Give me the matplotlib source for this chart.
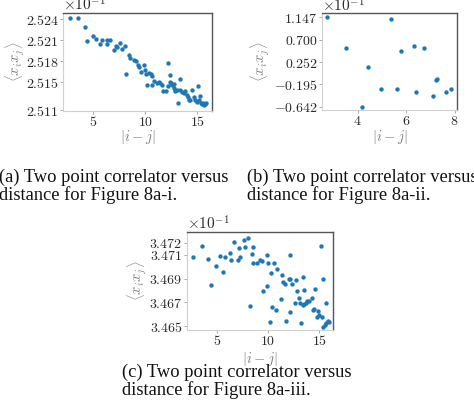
import matplotlib
matplotlib.use("Agg")
import matplotlib.pyplot as plt
from matplotlib.ticker import FixedLocator, FixedFormatter
from matplotlib.transforms import offset_copy

plt.rcParams['mathtext.fontset'] = 'cm'

# ---- data (a) ----
xa = [2.80, 3.59, 4.26, 4.45, 5.00, 5.32, 5.64, 5.83, 6.31, 6.37, 6.66, 7.05, 7.21, 7.31,
      7.63, 7.79, 8.05, 8.20, 8.46, 8.59, 8.88, 9.07, 9.30, 9.45, 9.62, 9.87, 10.00, 10.10,
      10.36, 10.55, 10.64, 10.19, 10.64, 10.87, 11.09, 11.32, 11.44, 11.61, 11.70, 12.02,
      12.15, 12.34, 12.40, 12.18, 12.43, 12.57, 12.72, 12.79, 12.88, 13.08, 13.14, 13.30,
      13.37, 13.53, 13.69, 13.85, 14.01, 14.11, 14.17, 14.26, 14.49, 14.65, 14.81, 14.97,
      15.07, 15.13, 15.22, 15.36, 15.45, 15.51, 15.64, 15.74, 15.80]
ya = [2.5241, 2.5242, 2.5228, 2.5209, 2.5216, 2.5212, 2.5205, 2.5210, 2.5210, 2.5204, 2.5210,
      2.5196, 2.5202, 2.5200, 2.5206, 2.5197, 2.5201, 2.5162, 2.5188, 2.5185, 2.5181, 2.5180,
      2.5175, 2.5172, 2.5165, 2.5174, 2.5167, 2.5162, 2.5163, 2.5161, 2.5159, 2.5146, 2.5146,
      2.5151, 2.5149, 2.5150, 2.5149, 2.5146, 2.5137, 2.5137, 2.5177, 2.5160, 2.5150, 2.5144,
      2.5148, 2.5146, 2.5147, 2.5141, 2.5137, 2.5139, 2.5120, 2.5154, 2.5139, 2.5136, 2.5134,
      2.5137, 2.5131, 2.5128, 2.5125, 2.5124, 2.5139, 2.5129, 2.5124, 2.5122, 2.5144, 2.5124,
      2.5130, 2.5120, 2.5118, 2.5120, 2.5117, 2.5119, 2.5120]
yticks_a = [2.511, 2.515, 2.518, 2.521, 2.524]
ytl_a = ['2.511', '2.515', '2.518', '2.521', '2.524']
xticks_a = [5, 10, 15]

# ---- data (b) ----
xb = [2.73, 3.53, 4.18, 4.42, 4.96, 5.36, 5.62, 5.80, 6.32, 6.40, 6.72, 7.09, 7.23, 7.28, 7.64, 7.84]
yb = [1.147, 0.539, -0.642, 0.146, -0.294, 1.119, -0.282, 0.479, 0.567, -0.342, 0.539,
      -0.434, -0.108, -0.082, -0.354, -0.288]
yticks_b = [-0.642, -0.195, 0.252, 0.700, 1.147]
ytl_b = ['-0.642', '-0.195', '0.252', '0.700', '1.147']
xticks_b = [4, 6, 8]

# ---- data (c) ----
xc = [2.72, 3.54, 4.18, 4.41, 4.93, 5.35, 5.58, 5.78, 6.26, 6.36, 6.69, 7.04, 7.21, 7.30, 7.63,
      7.79, 8.08, 8.25, 8.44, 8.54, 8.54, 8.90, 9.19, 9.45, 9.48, 9.87, 9.90, 9.97, 10.19,
      10.32, 10.42, 10.62, 10.78, 10.84, 11.23, 11.33, 11.46, 11.65, 11.72, 12.01, 12.18,
      12.18, 12.31, 12.11, 12.63, 12.70, 12.83, 13.06, 13.19, 13.15, 13.38, 13.44, 13.54,
      13.54, 13.70, 13.83, 14.03, 14.29, 14.35, 14.48, 14.61, 14.90, 14.77, 15.00, 15.20,
      15.23, 15.36, 15.33, 15.56, 15.65, 15.68, 15.81, 15.91]
yc = [3.47080, 3.47178, 3.47068, 3.46850, 3.47010, 3.47094, 3.46956, 3.47080, 3.47119, 3.47057,
      3.47208, 3.47060, 3.47158, 3.47085, 3.47222, 3.47164, 3.47242, 3.46668, 3.47108, 3.47164,
      3.47035, 3.47032, 3.47060, 3.47052, 3.46799, 3.46836, 3.47102, 3.47029, 3.46533, 3.46945,
      3.46659, 3.47029, 3.46640, 3.46982, 3.46729, 3.46934, 3.46869, 3.46858, 3.46547, 3.46897,
      3.47102, 3.46897, 3.46855, 3.46620, 3.46696, 3.46892, 3.46794, 3.46738, 3.46528, 3.46696,
      3.46912, 3.46682, 3.46805, 3.46687, 3.46696, 3.46710, 3.46710, 3.46738, 3.46634, 3.46645,
      3.46816, 3.46626, 3.46578, 3.46598, 3.47172, 3.46575, 3.46900, 3.46497, 3.46514, 3.46696,
      3.46528, 3.46542, 3.46533]
yticks_c = [3.465, 3.467, 3.469, 3.471, 3.472]
ytl_c = ['3.465', '3.467', '3.469', '3.471', '3.472']
xticks_c = [5, 10, 15]

captions = [
    ["(a) Two point correlator versus", "distance for Figure 8a-i."],
    ["(b) Two point correlator versus", "distance for Figure 8a-ii."],
    ["(c) Two point correlator versus", "distance for Figure 8a-iii."],
]

W, H = 474, 412
fig = plt.figure(figsize=(W / 100, H / 100), dpi=100)

def box(l, t, r, b):
    return [l / W, 1 - b / H, (r - l) / W, (b - t) / H]

DOT = '#1f77b4'
LIGHT = '#d0d0d0'
DARK = '#555555'
TXT = '#2a2a2a'
LBL = '#808080'

def panel(rect, x, y, xt, yt, ytl, xlim, ylim, ylab_x, xlab_y):
    ax = fig.add_axes(rect)
    ax.scatter(x, y, s=10, color=DOT, linewidths=0, zorder=3)
    ax.set_xlim(*xlim)
    ax.set_ylim(*ylim)
    ax.xaxis.set_major_locator(FixedLocator(xt))
    ax.xaxis.set_major_formatter(FixedFormatter(['$%d$' % v for v in xt]))
    ax.yaxis.set_major_locator(FixedLocator(yt))
    ax.yaxis.set_major_formatter(FixedFormatter(['$%s$' % s for s in ytl]))
    for side in ('left', 'bottom'):
        ax.spines[side].set_color(LIGHT)
        ax.spines[side].set_linewidth(0.8)
    for side in ('top', 'right'):
        ax.spines[side].set_color(DARK)
        ax.spines[side].set_linewidth(1.0)
    ax.tick_params(axis='both', length=2.0, width=0.6, color='#999999',
                   labelsize=10, labelcolor=TXT, pad=1.0)
    ax.set_xlabel(r'$|i-j|$', fontsize=10.5, color=LBL)
    ax.set_ylabel(r'$\langle x_i x_j\rangle$', fontsize=10.5, color=LBL)
    ax.yaxis.set_label_coords(ylab_x, 0.5)
    ax.xaxis.set_label_coords(0.5, xlab_y)
    tr = offset_copy(ax.transAxes, fig=fig, x=0, y=1.5, units='points')
    ax.text(0.0, 1.0, r'$\times 10^{-1}$', transform=tr,
            fontsize=11, color=TXT, ha='left', va='baseline')
    return ax

panel(box(63, 13, 212, 111), xa, ya, xticks_a, yticks_a, ytl_a, (2.13, 16.39), (2.51086, 2.52486),
      -0.242, -0.173)
panel(box(322, 13.3, 457, 110), xb, yb, xticks_b, yticks_b, ytl_b, (2.53, 8.10), (-0.708, 1.227),
      -0.37, -0.186)
panel(box(186.7, 232, 333.3, 329.7), xc, yc, xticks_c, yticks_c, ytl_c, (2.08, 16.36), (3.46471, 3.47292),
      -0.255, -0.205)

cap_pos = [(-1, 177), (247, 177), (122, 372)]
for (cx, cy), lines in zip(cap_pos, captions):
    for i, line in enumerate(lines):
        fig.text(cx / W, 1 - (cy + i * 18.5) / H, line, family='Liberation Serif',
                 fontsize=13.3, color='#111111', ha='left', va='center')

fig.savefig('out.png', dpi=100)
